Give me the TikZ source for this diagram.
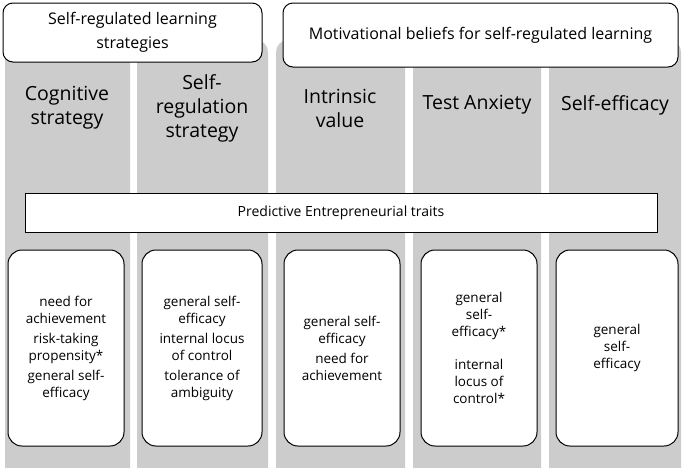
\documentclass[tikz,border=0pt]{standalone}
\usepackage{fontspec}
\setmainfont{Open Sans}
\begin{document}
\begin{tikzpicture}[x=1pt,y=-1pt,
 col/.style={fill=gray!40,draw=none,rounded corners=12pt},
 wbox/.style={draw=black,fill=white,rounded corners=10pt,line width=1pt},
 trait/.style={draw=black,fill=white,rounded corners=14pt,line width=1pt,align=center,font=\fontsize{13.5}{17}\selectfont,inner sep=2pt},
 hdr/.style={align=center,font=\fontsize{19.5}{24}\selectfont}]
\useasboundingbox (0,0) rectangle (685,467);
\clip (0,0) rectangle (685,467);
\fill[col] (5,40) rectangle (130,480);
\fill[col] (137,40) rectangle (268,480);
\fill[col] (276,40) rectangle (405,480);
\fill[col] (413,40) rectangle (541,480);
\fill[col] (549,40) rectangle (681,480);
\node[wbox,minimum width=259pt,minimum height=59pt,align=center,font=\fontsize{16}{24}\selectfont] (srl) at (132.5,32.5) {Self-regulated learning\\strategies};
\node[wbox,minimum width=395pt,minimum height=64pt,font=\fontsize{16}{19}\selectfont] (mot) at (480.5,35) {Motivational beliefs for self-regulated learning};
\node[hdr] (h1) at (67,108) {Cognitive\\strategy};
\node[hdr] (h2) at (202,108) {Self-\\regulation\\strategy};
\node[hdr] (h3) at (340,108) {Intrinsic\\value};
\node[hdr] (h4) at (477,105) {Test Anxiety};
\node[hdr] (h5) at (615,105) {Self-efficacy};
\node[draw=black,fill=white,line width=1pt,minimum width=632pt,minimum height=39pt,font=\fontsize{14}{17}\selectfont] (pet) at (341,212.5) {Predictive Entrepreneurial traits};
\node[trait,minimum width=116pt,minimum height=196pt] (t1) at (66,348) {need for\\achievement\\[3pt]risk-taking\\propensity*\\[3pt]general self-\\efficacy};
\node[trait,minimum width=120pt,minimum height=196pt] (t2) at (202,348) {general self-\\efficacy\\[3pt]internal locus\\of control\\[3pt]tolerance of\\ambiguity};
\node[trait,minimum width=116pt,minimum height=196pt] (t3) at (342,348) {general self-\\efficacy\\[3pt]need for\\achievement};
\node[trait,minimum width=116pt,minimum height=196pt] (t4) at (479,348) {general\\self-\\efficacy*\\[16pt]internal\\locus of\\control*};
\node[trait,minimum width=122pt,minimum height=196pt] (t5) at (617,348) {general\\self-\\efficacy};
\end{tikzpicture}
\end{document}
